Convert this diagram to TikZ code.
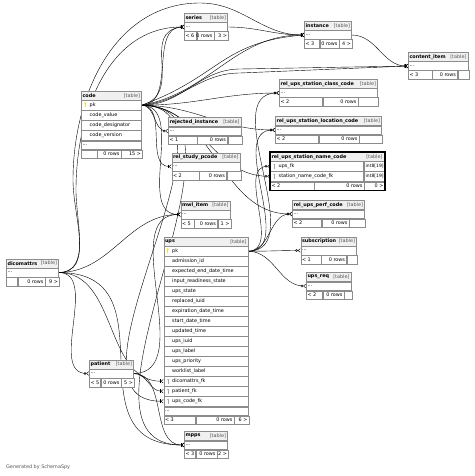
\documentclass[tikz,border=0pt]{standalone}
\usepackage{fontspec}
\setmainfont{DejaVu Sans}
\usepackage{tikz}
\usetikzlibrary{positioning, calc, arrows.meta}
\definecolor{boxline}{rgb}{0.55,0.55,0.55}
\definecolor{headfill}{rgb}{0.94,0.94,0.94}
\definecolor{keygold}{rgb}{0.96,0.86,0.25}
\newcommand{\tabfont}{\fontsize{4.9}{5.8}\selectfont}
\pgfdeclarelayer{edges}
\pgfsetlayers{edges,main}

\tikzset{
  tab/.style={draw=boxline, fill=white, anchor=north west, inner sep=0pt, minimum height=8.5, line width=0.5pt},
  hdr/.style={tab, fill=headfill, minimum height=9},
  colrow/.style={tab, minimum height=10},
  txt/.style={inner sep=1.3pt, font=\tabfont, text=black},
  note/.style={txt, text=black!65},
  typetxt/.style={txt, inner sep=0.6pt, font=\fontsize{4.5}{5.5}\selectfont},
  rel/.style={draw=black, line width=0.4pt},
  opt/.style={-{Circle[open, length=2.6pt, width=2.6pt] Straight Barb[reversed, length=2.2pt, width=3.8pt]}},
  req/.style={-{Bar[width=3.8pt, line width=0.6pt] Straight Barb[reversed, length=2.2pt, width=3.8pt]}},
}

% header row, "..." row and footer of a table
\newcommand{\tabhead}[5]{%
  \node[hdr, minimum width=#4] (#1) at (#2,#3) {};
  \node[txt, right, font=\tabfont\bfseries] at (#1.west) {#5};
  \node[note, left] at (#1.east) {[table]};
}
\newcommand{\dotsrow}[3]{%
  \node[tab, minimum width=#3] (#1-dots) at (#2.south west) {};
  \node[txt, right] at (#1-dots.west) {...};
}
\newcommand{\tabfoot}[7]{%
  \node[tab, minimum width=#3] (#1-b1) at (#2.south west) {};
  \node[tab, minimum width=#4] (#1-b2) at (#1-b1.north east) {};
  \node[tab, minimum width=#5] (#1-b3) at (#1-b2.north east) {};
  \node[txt, right] at (#1-b1.west) {#6};
  \node[txt, left] at (#1-b2.east) {0 rows};
  \node[txt, left] at (#1-b3.east) {#7};
}
\newcommand{\simpletab}[9]{%
  \pgfmathsetmacro{\tabw}{#5+#6+#7}
  \tabhead{#1}{#2}{#3}{\tabw}{#4}
  \dotsrow{#1}{#1}{\tabw}
  \tabfoot{#1}{#1-dots}{#5}{#6}{#7}{#8}{#9}
}
\newcommand{\colrow}[5]{%
  \node[colrow, minimum width=#4] (#1) at (#2,#3) {};
  \node[txt, right] at ($(#1.west)+(7.2,0)$) {#5};
}
\newcommand{\markpk}[1]{%
  \draw[keygold, line width=0.8pt] ($(#1.west)+(4.2,-1)$) -- ++(0,3.2);
  \fill[keygold] ($(#1.west)+(4.2,-2)$) circle (1.1);
}
\newcommand{\markfk}[1]{%
  \draw[black!35, line width=0.4pt, -{Straight Barb[length=0.8pt, width=1.6pt]}] ($(#1.west)+(4.2,2.4)$) -- ++(0,-4.8);
}

\AtBeginDocument{\catcode`\_=12 }

\begin{document}
\begin{tikzpicture}[x=1pt, y=-1pt]
  \useasboundingbox (0,0) rectangle (474,476);

  % tables with no columns shown
  \simpletab{series}{184}{13}{series}{12}{17}{14}{< 6}{3 >}
  \simpletab{instance}{304}{21}{instance}{15}{19}{13}{< 3}{4 >}
  \simpletab{contentitem}{408}{52}{content_item}{23.5}{25}{11}{< 3}{}
  \simpletab{stclass}{279}{79}{rel_ups_station_class_code}{43}{35}{20}{< 2}{}
  \simpletab{stloc}{275}{116}{rel_ups_station_location_code}{43}{40}{23}{< 2}{}
  \simpletab{rejected}{168}{117}{rejected_instance}{28.5}{30}{14}{< 1}{}
  \simpletab{studypcode}{171.5}{152.5}{rel_study_pcode}{27}{27}{14}{< 2}{}
  \simpletab{mwlitem}{180.5}{200.5}{mwl_item}{13}{23}{13}{< 5}{1 >}
  \simpletab{perfcode}{292}{200}{rel_ups_perf_code}{29}{27}{16}{< 2}{}
  \simpletab{subscription}{300.5}{236.5}{subscription}{20}{25}{10.5}{< 1}{}
  \simpletab{upsreq}{306}{272}{ups_req}{16}{21}{7.5}{< 2}{}
  \simpletab{dicomattrs}{6}{258.5}{dicomattrs}{11}{27}{14}{}{9 >}
  \simpletab{patient}{89}{359.5}{patient}{11}{20}{13}{< 5}{5 >}
  \simpletab{mpps}{184}{431}{mpps}{11}{21}{11}{< 3}{2 >}

  % code
  \tabhead{code}{81}{91}{60}{code}
  \colrow{code-pk}{81}{100}{60}{pk}
  \markpk{code-pk}
  \colrow{code-value}{81}{110}{60}{code_value}
  \colrow{code-designator}{81}{120}{60}{code_designator}
  \colrow{code-version}{81}{130}{60}{code_version}
  \dotsrow{code}{code-version}{60}
  \tabfoot{code}{code-dots}{15.5}{23.5}{21}{}{15 >}

  % ups
  \tabhead{ups}{163.5}{237}{84}{ups}
  \colrow{ups-pk}{163.5}{246}{84}{pk}
  \markpk{ups-pk}
  \foreach \c [count=\i] in {admission_id, expected_end_date_time, input_readiness_state,
      ups_state, replaced_iuid, expiration_date_time, start_date_time, updated_time,
      ups_iuid, ups_label, ups_priority, worklist_label, dicomattrs_fk, patient_fk, ups_code_fk}
    {\colrow{ups-\c}{163.5}{246+10*\i}{84}{\c}}
  \markfk{ups-dicomattrs_fk}
  \markfk{ups-patient_fk}
  \markfk{ups-ups_code_fk}
  \dotsrow{ups}{ups-ups_code_fk}{84}
  \tabfoot{ups}{ups-dots}{31.5}{38}{14.5}{< 3}{6 >}

  % rel_ups_station_name_code
  \tabhead{stname}{270}{152}{113.5}{rel_ups_station_name_code}
  \colrow{stname-ufk}{270}{161}{93}{ups_fk}
  \node[colrow, minimum width=20.5] (stname-ut) at (stname-ufk.north east) {};
  \node[typetxt, left] at (stname-ut.east) {int8[19]};
  \colrow{stname-sncf}{270}{171}{93}{station_name_code_fk}
  \node[colrow, minimum width=20.5] (stname-st) at (stname-sncf.north east) {};
  \node[typetxt, left] at (stname-st.east) {int8[19]};
  \markfk{stname-ufk}
  \markfk{stname-sncf}
  \tabfoot{stname}{stname-sncf}{43.5}{49.5}{20.5}{< 2}{0 >}
  \draw[line width=1.1pt] (stname.north west) rectangle (stname-b3.south east);

  \node[note, right, inner sep=0pt] (credit) at (6,467) {Generated by SchemaSpy};

  \begin{pgfonlayer}{edges}
  \fill[white] (0,0) rectangle (474,476);

  % code as parent
  \draw[rel, req] (code-pk.east) to[out=0, in=180] (series-dots.west);
  \draw[rel, req] (code-pk.east) to[out=15, in=185, looseness=1.3] (series-dots.west);
  \draw[rel, req] (code-pk.east) to[out=10, in=180] (instance-dots.west);
  \draw[rel, req] (code-pk.east) to[out=20, in=185, looseness=1.2] (instance-dots.west);
  \draw[rel, req] (code-pk.east) to[out=0, in=180] (240,69) -- (contentitem-dots.west);
  \draw[rel, req] (code-pk.east) to[out=5, in=180] (240,73) -- (contentitem-dots.west);
  \draw[rel, opt] (code-pk.east) to[out=0, in=180] (stclass-dots.west);
  \draw[rel, opt] (code-pk.east) to[out=0, in=180] (stloc-dots.west);
  \draw[rel, opt] (code-pk.east) to[out=0, in=180] (rejected-dots.west);
  \draw[rel, req] (code-pk.east) to[out=0, in=180] (studypcode-dots.west);
  \draw[rel, opt] (code-pk.east) to[out=0, in=180] (stname-sncf.west);
  \draw[rel, req] (code-pk.east) to[out=0, in=180] (mwlitem-dots.west);
  \draw[rel, opt] (code-pk.east) to[out=0, in=180] (perfcode-dots.west);
  \draw[rel, req] (code-pk.east) to[out=0, in=180] (ups-ups_code_fk.west);
  \draw[rel, req] (code-pk.east) to[out=0, in=180] (mpps-dots.west);

  % dicomattrs as parent
  \draw[rel, req] (dicomattrs-dots.east) to[out=0, in=-90] (73,180)
    to[out=90, in=180] (200,3) to[out=0, in=180] (instance-dots.west);
  \draw[rel, req] (dicomattrs-dots.east) to[out=0, in=-90] (76,190)
    to[out=90, in=180] (series-dots.west);
  \draw[rel, req] (dicomattrs-dots.east) to[out=0, in=180] (mwlitem-dots.west);
  \draw[rel, req] (dicomattrs-dots.east) to[out=0, in=180] (ups-dicomattrs_fk.west);
  \draw[rel, opt] (dicomattrs-dots.east) to[out=0, in=180] (patient-dots.west);
  \draw[rel, req] (dicomattrs-dots.east) to[out=0, in=180, looseness=1.4] (mpps-dots.west);

  % patient as parent
  \draw[rel, req] (patient-dots.east) to[out=0, in=180] (mwlitem-dots.west);
  \draw[rel, req] (patient-dots.east) to[out=0, in=180] (ups-patient_fk.west);
  \draw[rel, req] (patient-dots.east) to[out=0, in=180] (mpps-dots.west);

  % series and instance as parents
  \draw[rel, req] (series-dots.east) to[out=0, in=180] (instance-dots.west);
  \draw[rel, req] (instance-dots.east) to[out=0, in=180] (contentitem-dots.west);

  % ups as parent
  \draw[rel, opt] (ups-pk.east) to[out=0, in=180] (stclass-dots.west);
  \draw[rel, opt] (ups-pk.east) to[out=0, in=180] (stloc-dots.west);
  \draw[rel, opt] (ups-pk.east) to[out=0, in=180] (stname-ufk.west);
  \draw[rel, opt] (ups-pk.east) to[out=0, in=180] (perfcode-dots.west);
  \draw[rel, opt] (ups-pk.east) to[out=0, in=180] (subscription-dots.west);
  \draw[rel, opt] (ups-pk.east) to[out=0, in=180] (upsreq-dots.west);
  \end{pgfonlayer}
\end{tikzpicture}
\end{document}
